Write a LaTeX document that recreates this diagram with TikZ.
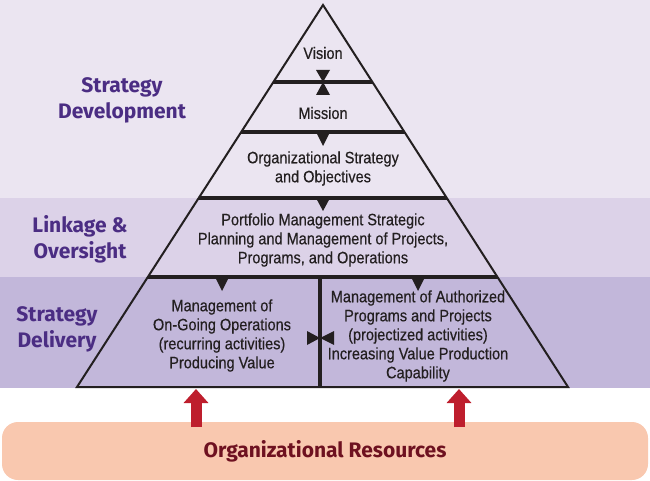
\documentclass[tikz,border=0pt]{standalone}
\usepackage{fontspec}
\setmainfont{Liberation Sans}
\newfontfamily\condfont[FakeStretch=0.88,FakeBold=0.4]{Liberation Sans}
\newfontfamily\labfont{Fira Sans}
\usetikzlibrary{arrows.meta}
\definecolor{bandA}{HTML}{EBE5F1}
\definecolor{bandB}{HTML}{DCD2E8}
\definecolor{bandC}{HTML}{C2B7DA}
\definecolor{labpurple}{HTML}{4B2D83}
\definecolor{ink}{HTML}{231F20}
\definecolor{peach}{HTML}{F9C8AF}
\definecolor{resred}{HTML}{6E1120}
\definecolor{arrred}{HTML}{BE1E2D}
\begin{document}
\begin{tikzpicture}[x=1pt,y=-1pt,
  txt/.style={font=\condfont\fontsize{16.5}{19}\selectfont, text=ink, align=center, inner sep=0pt},
  lab/.style={font=\labfont\bfseries\fontsize{21}{26}\selectfont, text=labpurple, align=center, inner sep=0pt},
  bar/.style={line width=4.5pt, draw=ink},
  pin/.style={fill=ink},
  redarrow/.style={line width=11pt, draw=arrred, -{Triangle[width=24pt,length=14pt]}}
]
\useasboundingbox (0,0) rectangle (650,481);
% bands
\fill[bandA] (0,0) rectangle (650,198);
\fill[bandB] (0,198) rectangle (650,277);
\fill[bandC] (0,277) rectangle (650,388);
% resources
\node[fill=peach, rounded corners=16pt, minimum width=646pt, minimum height=58pt,
      font=\labfont\bfseries\fontsize{21}{24}\selectfont, text=resred] (res) at (325,451) {Organizational Resources};
\coordinate (s1) at (196,427);
\coordinate (t1) at (196,389);
\coordinate (s2) at (459,427);
\coordinate (t2) at (459,389);
\draw[redarrow] (s1) -- (t1);
\draw[redarrow] (s2) -- (t2);
% pyramid
\coordinate (apex) at (323,5);
\coordinate (bl) at (77,387);
\coordinate (br) at (568,387);
\begin{scope}
\clip (apex)--(bl)--(br)--cycle;
\draw[bar] (0,82) -- (650,82);
\draw[bar] (0,132) -- (650,132);
\draw[bar] (0,198) -- (650,198);
\draw[bar] (0,277) -- (650,277);
\draw[line width=4pt, draw=ink] (320,277) -- (320,392);
\end{scope}
\draw[line width=2pt, draw=ink, line join=miter] (apex)--(bl)--(br)--cycle;
% pins
\fill[pin] (316,70) -- (330,70) -- (323,82) -- cycle;
\fill[pin] (323,82) -- (316,95) -- (330,95) -- cycle;
\fill[pin] (316,132) -- (330,132) -- (323,146) -- cycle;
\fill[pin] (316,198) -- (330,198) -- (323,211) -- cycle;
\fill[pin] (215,277) -- (229,277) -- (222,291) -- cycle;
\fill[pin] (411,277) -- (425,277) -- (418,291) -- cycle;
\fill[pin] (307,331) -- (307,345) -- (320,338) -- cycle;
\fill[pin] (334,331) -- (334,345) -- (320,338) -- cycle;
% texts
\node[txt] (vision) at (323,53) {Vision};
\node[txt] (mission) at (323,113) {Mission};
\node[txt] (orgstrat) at (323,168.5) {Organizational Strategy\\and Objectives};
\node[txt] (portfolio) at (323,240) {Portfolio Management Strategic\\Planning and Management of Projects,\\Programs, and Operations};
\node[txt] (ops) at (222,335.5) {Management of\\On-Going Operations\\(recurring activities)\\Producing Value};
\node[txt] (progs) at (418,336) {Management of Authorized\\Programs and Projects\\(projectized activities)\\Increasing Value Production\\Capability};
% labels
\node[lab] (sdev) at (122,100.5) {Strategy\\Development};
\node[lab] (link) at (80,239.5) {Linkage \&\\Oversight};
\node[lab] (sdel) at (57,329) {Strategy\\Delivery};
\end{tikzpicture}
\end{document}
